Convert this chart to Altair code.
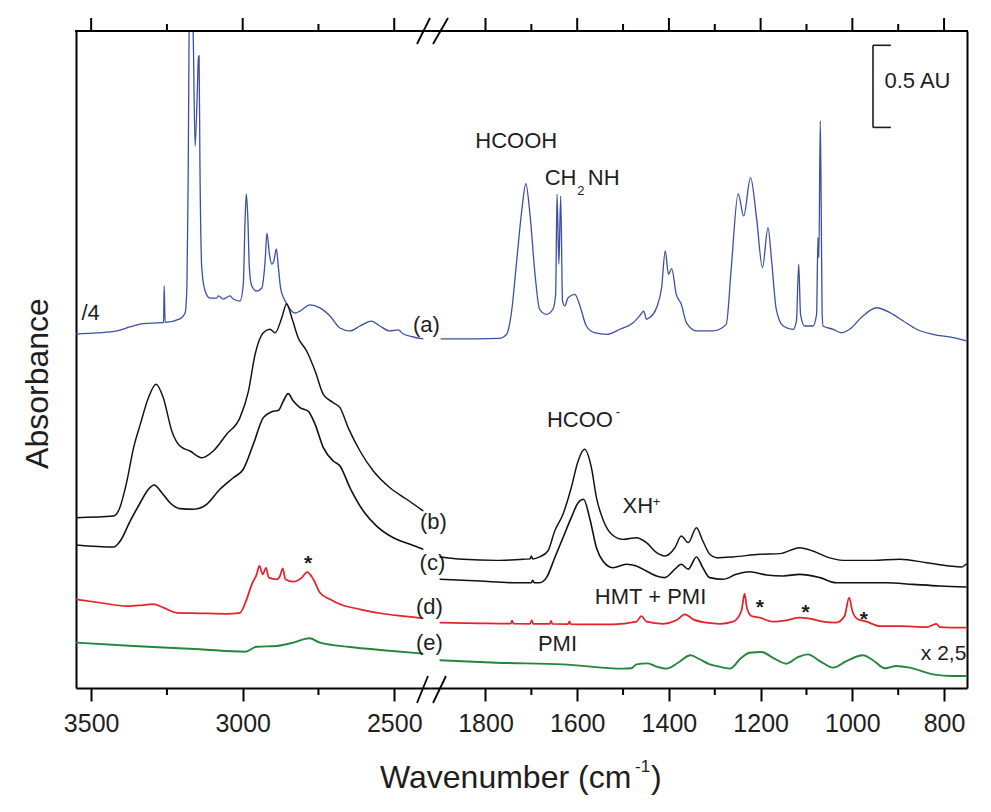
import altair as alt
import pandas as pd

# ---------------------------------------------------------------------------
# IR spectra (a)-(e): (wavenumber / cm-1, plotted absorbance / AU incl. offset)
# High-wavenumber window (3550-2382 cm-1); trace (a) is shown divided by 4 there.
# ---------------------------------------------------------------------------
A_HIGH = [(3550, 2.155), (3480, 2.162), (3415, 2.174), (3370, 2.200), (3328, 2.218),
          (3267, 2.224), (3261, 2.226), (3259, 2.448), (3256, 2.226), (3207, 2.247),
          (3190, 2.283), (3184, 2.450), (3180, 3.100), (3175, 4.300), (3167, 4.300),
          (3163, 3.950), (3157, 3.300), (3150, 3.620), (3146, 3.840), (3144, 3.850),
          (3141, 3.170), (3135, 2.557), (3124, 2.417), (3108, 2.374), (3086, 2.374),
          (3080, 2.387), (3064, 2.368), (3042, 2.387), (3031, 2.368), (3009, 2.356),
          (2998, 2.460), (2992, 2.860), (2988, 3.008), (2983, 2.860), (2978, 2.557),
          (2970, 2.448), (2954, 2.417), (2937, 2.435), (2926, 2.600), (2920, 2.770),
          (2912, 2.642), (2904, 2.581), (2897, 2.600), (2889, 2.673), (2882, 2.557),
          (2875, 2.435), (2860, 2.356), (2844, 2.307), (2827, 2.283), (2811, 2.295),
          (2778, 2.332), (2745, 2.314), (2712, 2.265), (2679, 2.192), (2646, 2.174),
          (2613, 2.204), (2575, 2.234), (2547, 2.204), (2514, 2.174), (2487, 2.180),
          (2470, 2.155), (2437, 2.137), (2404, 2.125)]

B_HIGH = [(3550, 1.037), (3426, 1.047), (3410, 1.078), (3382, 1.260), (3360, 1.463),
          (3338, 1.605), (3311, 1.767), (3286, 1.849), (3262, 1.767), (3234, 1.565),
          (3207, 1.473), (3174, 1.443), (3135, 1.402), (3097, 1.443), (3053, 1.545),
          (3009, 1.646), (2981, 1.808), (2959, 2.032), (2932, 2.163), (2910, 2.184),
          (2893, 2.163), (2871, 2.254), (2855, 2.340), (2838, 2.254), (2817, 2.133),
          (2789, 2.052), (2761, 1.930), (2734, 1.788), (2701, 1.737), (2679, 1.707),
          (2652, 1.585), (2613, 1.443), (2569, 1.321), (2514, 1.219), (2459, 1.149),
          (2404, 1.078)]

C_HIGH = [(3550, 0.871), (3426, 0.858), (3404, 0.895), (3371, 1.017), (3338, 1.128),
          (3311, 1.210), (3292, 1.236), (3267, 1.189), (3240, 1.128), (3207, 1.092),
          (3163, 1.088), (3119, 1.118), (3075, 1.210), (3031, 1.280), (2998, 1.332),
          (2965, 1.484), (2932, 1.646), (2904, 1.682), (2882, 1.691), (2866, 1.747),
          (2850, 1.792), (2833, 1.747), (2811, 1.707), (2784, 1.686), (2761, 1.605),
          (2734, 1.463), (2701, 1.382), (2679, 1.352), (2646, 1.219), (2602, 1.078),
          (2558, 0.986), (2503, 0.915), (2448, 0.875), (2404, 0.845)]

D_HIGH = [(3550, 0.540), (3470, 0.519), (3382, 0.499), (3328, 0.505), (3295, 0.510),
          (3262, 0.489), (3217, 0.458), (3141, 0.455), (3053, 0.452), (3009, 0.458),
          (2989, 0.530), (2970, 0.631), (2954, 0.692), (2945, 0.743), (2934, 0.692),
          (2923, 0.732), (2914, 0.672), (2888, 0.662), (2877, 0.682), (2868, 0.729),
          (2859, 0.662), (2833, 0.647), (2805, 0.672), (2787, 0.706), (2767, 0.662),
          (2745, 0.580), (2712, 0.540), (2679, 0.510), (2613, 0.479), (2536, 0.452),
          (2470, 0.438), (2404, 0.424)]

E_HIGH = [(3550, 0.276), (3360, 0.256), (3141, 0.236), (2992, 0.221), (2954, 0.251),
          (2888, 0.256), (2833, 0.276), (2780, 0.303), (2745, 0.276), (2646, 0.250),
          (2536, 0.230), (2404, 0.209)]

# Fingerprint window (1921-750 cm-1); trace (e) is shown multiplied by 2.5.
A_LOW = [(1898, 2.125), (1769, 2.129), (1754, 2.153), (1743, 2.295), (1732, 2.600),
         (1721, 2.904), (1712, 3.070), (1703, 2.884), (1692, 2.519), (1682, 2.306),
         (1667, 2.275), (1653, 2.306), (1647, 2.397), (1644, 3.006), (1640, 2.580),
         (1636, 2.995), (1632, 2.356), (1627, 2.326), (1620, 2.376), (1605, 2.397),
         (1594, 2.326), (1580, 2.204), (1562, 2.163), (1536, 2.153), (1507, 2.184),
         (1478, 2.224), (1464, 2.265), (1455, 2.295), (1449, 2.245), (1442, 2.255),
         (1427, 2.315), (1416, 2.437), (1408, 2.661), (1401, 2.519), (1394, 2.553),
         (1384, 2.397), (1373, 2.336), (1362, 2.224), (1340, 2.174), (1304, 2.174),
         (1275, 2.214), (1264, 2.559), (1249, 3.010), (1237, 2.874), (1222, 3.107),
         (1209, 2.864), (1196, 2.559), (1184, 2.803), (1176, 2.600), (1166, 2.306),
         (1151, 2.204), (1129, 2.184), (1122, 2.234), (1117, 2.580), (1113, 2.275),
         (1104, 2.204), (1086, 2.204), (1078, 2.275), (1075, 2.742), (1073, 2.620),
         (1070, 3.452), (1068, 2.950), (1066, 2.300), (1064, 2.204), (1042, 2.184),
         (1024, 2.163), (1006, 2.184), (977, 2.265), (947, 2.315), (918, 2.285),
         (889, 2.234), (860, 2.184), (824, 2.153), (780, 2.133), (751, 2.113)]

B_LOW = [(1900, 0.798), (1849, 0.784), (1776, 0.777), (1718, 0.784), (1703, 0.786),
         (1700, 0.804), (1697, 0.786), (1682, 0.798), (1664, 0.834), (1649, 0.956),
         (1631, 1.058), (1613, 1.219), (1598, 1.382), (1584, 1.453), (1569, 1.341),
         (1558, 1.159), (1544, 1.027), (1525, 0.936), (1500, 0.905), (1471, 0.915),
         (1449, 0.885), (1427, 0.824), (1409, 0.804), (1387, 0.854), (1373, 0.925),
         (1358, 0.885), (1340, 0.976), (1326, 0.895), (1311, 0.814), (1296, 0.793),
         (1260, 0.798), (1202, 0.814), (1158, 0.818), (1115, 0.854), (1086, 0.834),
         (1056, 0.798), (1020, 0.777), (955, 0.777), (897, 0.784), (838, 0.763),
         (788, 0.743), (762, 0.737), (751, 0.757)]

C_LOW = [(1900, 0.662), (1812, 0.651), (1740, 0.641), (1700, 0.641), (1697, 0.656),
         (1694, 0.641), (1682, 0.641), (1667, 0.672), (1649, 0.793), (1631, 0.915),
         (1613, 1.037), (1598, 1.128), (1586, 1.149), (1573, 1.037), (1558, 0.854),
         (1544, 0.773), (1522, 0.732), (1493, 0.753), (1471, 0.743), (1449, 0.712),
         (1427, 0.682), (1409, 0.672), (1387, 0.723), (1373, 0.753), (1358, 0.723),
         (1340, 0.798), (1326, 0.732), (1311, 0.672), (1282, 0.662), (1253, 0.692),
         (1224, 0.708), (1187, 0.688), (1151, 0.682), (1115, 0.692), (1071, 0.672),
         (1035, 0.641), (1006, 0.641), (969, 0.641), (926, 0.641), (868, 0.631),
         (809, 0.621), (751, 0.615)]

D_LOW = [(1900, 0.398), (1812, 0.394), (1745, 0.392), (1742, 0.410), (1739, 0.392),
         (1703, 0.391), (1699, 0.412), (1696, 0.391), (1660, 0.390), (1657, 0.408),
         (1654, 0.390), (1620, 0.389), (1617, 0.405), (1614, 0.389), (1594, 0.388),
         (1522, 0.388), (1471, 0.404), (1460, 0.438), (1449, 0.404), (1413, 0.391),
         (1384, 0.412), (1365, 0.449), (1347, 0.418), (1318, 0.398), (1289, 0.391),
         (1260, 0.404), (1242, 0.469), (1235, 0.574), (1230, 0.489), (1220, 0.438),
         (1202, 0.428), (1173, 0.404), (1144, 0.412), (1115, 0.428), (1093, 0.422),
         (1064, 0.404), (1035, 0.398), (1017, 0.438), (1007, 0.550), (1000, 0.469),
         (988, 0.418), (969, 0.404), (940, 0.377), (897, 0.377), (838, 0.371),
         (817, 0.391), (809, 0.371), (751, 0.367)]

E_LOW = [(1900, 0.169), (1776, 0.154), (1631, 0.144), (1500, 0.118), (1482, 0.120),
         (1471, 0.144), (1446, 0.150), (1427, 0.130), (1405, 0.118), (1380, 0.154),
         (1353, 0.199), (1333, 0.175), (1311, 0.144), (1296, 0.134), (1267, 0.118),
         (1242, 0.184), (1224, 0.215), (1198, 0.219), (1173, 0.184), (1144, 0.148),
         (1118, 0.189), (1097, 0.205), (1071, 0.164), (1042, 0.124), (1013, 0.164),
         (977, 0.199), (955, 0.169), (929, 0.120), (904, 0.134), (875, 0.124),
         (824, 0.083), (780, 0.073), (751, 0.073)]

TRACE_IDS = ["a", "b", "c", "d", "e"]
TRACE_COLORS = ["#3b4fa3", "#111111", "#111111", "#e3222a", "#23873b"]
TRACE_WIDTHS = [1.3, 1.9, 1.9, 1.4, 1.4]

# Axis ticks
HIGH_MAJOR = [3500, 3000, 2500]
HIGH_MINOR = [3250, 2750]
LOW_MAJOR = [1800, 1600, 1400, 1200, 1000, 800]
LOW_MINOR = [1700, 1500, 1300, 1100, 900]

# Annotations (text, wavenumber, absorbance)
HIGH_TAGS = [("/4", 3502, 2.286), ("(a)", 2394, 2.213), ("(b)", 2371, 1.011),
             ("(c)", 2374, 0.758), ("(d)", 2384, 0.493), ("(e)", 2384, 0.277)]
HIGH_STARS = [(2784, 0.798)]
LOW_CENTERED = [("HCOOH", 1733, 3.333), ("0.5 AU", 858, 3.696), ("HMT + PMI", 1440, 0.551),
                ("PMI", 1643, 0.265)]
LOW_LEFT = [("CH", 1671, 3.102), ("NH", 1577, 3.102), ("HCOO", 1666, 1.629), ("XH", 1501, 1.111)]
LOW_SCRIPTS = [("2", 1592, 3.026), ("-", 1511, 1.680), ("+", 1427, 1.132)]
LOW_FACTOR = [("x 2,5", 801, 0.207)]
LOW_STARS = [(1202, 0.530), (1102, 0.499), (975, 0.457)]

# 0.5 AU scale bar: x position, tick end, top value, length
BAR_WN, BAR_TICK_WN, BAR_TOP, BAR_LEN = 955, 916, 3.913, 0.5

# ---------------------------------------------------------------------------
FONT = "Liberation Sans, Arial, Helvetica, sans-serif"
INK = "#1e1e1e"
W_HIGH, W_LOW, H = 354, 537, 657
Y_SCALE = alt.Scale(domain=[0, 4.0], nice=False, zero=False)
ONE = pd.DataFrame({"k": [0]})


def spectra_frame(traces):
    rows = [{"trace": k, "wn": wn, "abs": ab} for k, pts in traces.items() for wn, ab in pts]
    return pd.DataFrame(rows)


def notes_frame(items):
    return pd.DataFrame(items, columns=["label", "wn", "abs"])


def x_axis(values):
    return alt.Axis(orient="bottom", values=values, format="d", tickSize=13, tickWidth=2,
                    tickColor="black", domainColor="black", domainWidth=2, labelFont=FONT,
                    labelFontSize=25, labelColor=INK, labelPadding=10, labelFlush=False,
                    labelOverlap=False, grid=False, title=None)


def spectra_layer(df, xs, xax, yax):
    return alt.Chart(df).mark_line(clip=True, strokeJoin="round", interpolate="monotone").encode(
        x=alt.X("wn:Q", scale=xs, axis=xax),
        y=alt.Y("abs:Q", scale=Y_SCALE, axis=yax),
        color=alt.Color("trace:N", scale=alt.Scale(domain=TRACE_IDS, range=TRACE_COLORS), legend=None),
        strokeWidth=alt.StrokeWidth("trace:N", scale=alt.Scale(domain=TRACE_IDS, range=TRACE_WIDTHS),
                                    legend=None),
        detail="trace:N",
    )


def tick_layer(values, xs, y0, y1):
    return alt.Chart(pd.DataFrame({"wn": values})).mark_rule(color="black", strokeWidth=2).encode(
        x=alt.X("wn:Q", scale=xs), y=alt.value(y0), y2=alt.value(y1))


def text_layer(items, xs, **mark):
    return alt.Chart(notes_frame(items)).mark_text(font=FONT, color=INK, **mark).encode(
        x=alt.X("wn:Q", scale=xs), y=alt.Y("abs:Q", scale=Y_SCALE), text="label:N")


def star_layer(points, xs):
    items = [("*", wn, ab) for wn, ab in points]
    return text_layer(items, xs, fontSize=21, fontWeight="bold", dy=7, align="center",
                      baseline="middle")


def top_frame(width):
    return alt.Chart(ONE).mark_rule(color="black", strokeWidth=2, strokeCap="square").encode(
        x=alt.value(0), x2=alt.value(width), y=alt.value(0))


def slash(x0, y0, x1, y1):
    return alt.Chart(ONE).mark_rule(color="black", strokeWidth=1.8).encode(
        x=alt.value(x0), y=alt.value(y0), x2=alt.value(x1), y2=alt.value(y1))


def label_text(text, x, y, size, **kw):
    return alt.Chart(ONE).mark_text(text=text, font=FONT, fontSize=size, color=INK,
                                    align="left", baseline="alphabetic", **kw).encode(
        x=alt.value(x), y=alt.value(y))


# ---------------- high-wavenumber panel ----------------
xs_high = alt.Scale(domain=[3550, 2382], nice=False, zero=False)
high_df = spectra_frame({"a": A_HIGH, "b": B_HIGH, "c": C_HIGH, "d": D_HIGH, "e": E_HIGH})
y_left = alt.Axis(orient="left", ticks=False, labels=False, domainColor="black", domainWidth=2,
                  grid=False, title="Absorbance", titleFont=FONT, titleFontSize=32,
                  titleFontWeight="normal", titleColor=INK, titlePadding=22, titleY=352)

high = alt.layer(
    spectra_layer(high_df, xs_high, x_axis(HIGH_MAJOR), y_left),
    tick_layer(HIGH_MINOR, xs_high, H, H + 7),
    tick_layer(HIGH_MAJOR, xs_high, 0, -13),
    tick_layer(HIGH_MINOR, xs_high, 0, -7),
    top_frame(W_HIGH),
    text_layer(HIGH_TAGS, xs_high, fontSize=22, align="center", baseline="middle"),
    star_layer(HIGH_STARS, xs_high),
    # axis break marks
    slash(341, 672, 352, 645), slash(357, 672, 370, 645),
    slash(341, 13, 354, -13), slash(357, 13, 372, -13),
    # x-axis title
    label_text("Wavenumber (cm", 304, 757, 32),
    label_text("-1", 559, 741, 17),
    label_text(")", 575, 757, 32),
).properties(width=W_HIGH, height=H)

# ---------------- fingerprint panel ----------------
xs_low = alt.Scale(domain=[1921, 750], nice=False, zero=False)
low_df = spectra_frame({"a": A_LOW, "b": B_LOW, "c": C_LOW, "d": D_LOW, "e": E_LOW})
y_right = alt.Axis(orient="right", ticks=False, labels=False, domainColor="black", domainWidth=2,
                   grid=False, title=None)

bar_df = pd.DataFrame({
    "wn": [BAR_WN, BAR_WN, BAR_WN],
    "wn2": [BAR_WN, BAR_TICK_WN, BAR_TICK_WN],
    "abs": [BAR_TOP, BAR_TOP, BAR_TOP - BAR_LEN],
    "abs2": [BAR_TOP - BAR_LEN, BAR_TOP, BAR_TOP - BAR_LEN],
})
scale_bar = alt.Chart(bar_df).mark_rule(color=INK, strokeWidth=1.6).encode(
    x=alt.X("wn:Q", scale=xs_low), x2="wn2:Q",
    y=alt.Y("abs:Q", scale=Y_SCALE), y2="abs2:Q")

low = alt.layer(
    spectra_layer(low_df, xs_low, x_axis(LOW_MAJOR), y_right),
    tick_layer(LOW_MINOR, xs_low, H, H + 7),
    tick_layer(LOW_MAJOR, xs_low, 0, -13),
    tick_layer(LOW_MINOR, xs_low, 0, -7),
    top_frame(W_LOW),
    scale_bar,
    text_layer(LOW_CENTERED, xs_low, fontSize=22, align="center", baseline="middle"),
    text_layer(LOW_LEFT, xs_low, fontSize=22, align="left", baseline="middle"),
    text_layer(LOW_SCRIPTS, xs_low, fontSize=13, align="center", baseline="middle"),
    text_layer(LOW_FACTOR, xs_low, fontSize=21, align="center", baseline="middle"),
    star_layer(LOW_STARS, xs_low),
).properties(width=W_LOW, height=H)

chart = alt.hconcat(high, low, spacing=0, bounds="flush").configure_view(
    stroke=None
).properties(
    padding={"left": 21, "top": 17, "right": 5, "bottom": 5},
    background="white",
)

chart.save("out.html", embed_options={"renderer": "svg", "actions": False})
